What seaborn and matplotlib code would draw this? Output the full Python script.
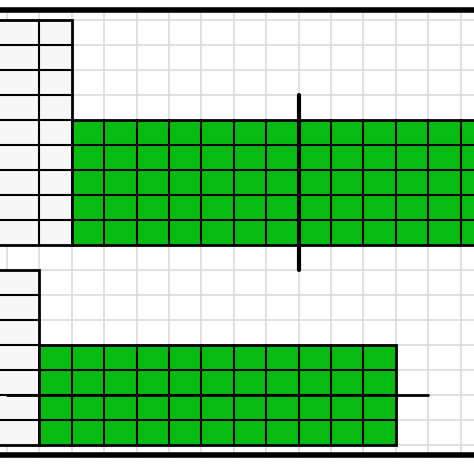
import matplotlib
matplotlib.use("Agg")
import matplotlib.pyplot as plt
import seaborn as sns
from matplotlib.patches import Rectangle

sns.set_style("white")

# blocks in grid units: (x0, x1, y0, y1, colour)
block_x0 = [-0.3, 2, -0.3, 1]
block_x1 = [2, 15, 1, 12]
block_y0 = [0, 4, 10, 13]
block_y1 = [9, 9, 17, 17]
block_col = ["#f7f7f7", "#08bb12", "#f7f7f7", "#08bb12"]

# markers: vertical line and horizontal line
vline_x, vline_y = 9, (3, 10)
hline_y, hline_x = 15, (0, 13)

fig, ax = plt.subplots(figsize=(4.74, 4.74), dpi=100)
fig.subplots_adjust(0, 0, 1, 1)
ax.set_facecolor("#f7f7f7")
ax.set_xlim(-0.216, 14.41)
ax.set_ylim(18.16, -0.8)
ax.axis("off")

for i in range(0, 15):
    ax.axvline(i, color="#dcdcdc", lw=1.2, zorder=0)
for j in range(0, 19):
    ax.axhline(j, color="#dcdcdc", lw=1.2, zorder=0)

for x0, x1, y0, y1, c in zip(block_x0, block_x1, block_y0, block_y1, block_col):
    ax.add_patch(Rectangle((x0, y0), x1 - x0, y1 - y0, facecolor=c,
                           edgecolor="black", lw=2, zorder=2))
    for i in range(int(x0) + 1 if x0 < 0 else int(x0) + 1, int(min(x1, 15))):
        ax.plot([i, i], [y0, y1], color="black", lw=1.5, zorder=3)
    for j in range(int(y0) + 1, int(y1)):
        ax.plot([x0, min(x1, 15)], [j, j], color="black", lw=1.5, zorder=3)

ax.plot([vline_x, vline_x], vline_y, color="black", lw=3, zorder=4)
ax.plot(hline_x, [hline_y, hline_y], color="black", lw=2, zorder=4)

ax.axhline(-0.4, color="black", lw=4, zorder=5)
ax.axhline(17.4, color="black", lw=4, zorder=5)
ax.axhspan(17.5, 18.2, color="white", zorder=4)
ax.axhspan(-0.8, -0.45, color="white", zorder=4)

fig.savefig("out.png", dpi=100)
